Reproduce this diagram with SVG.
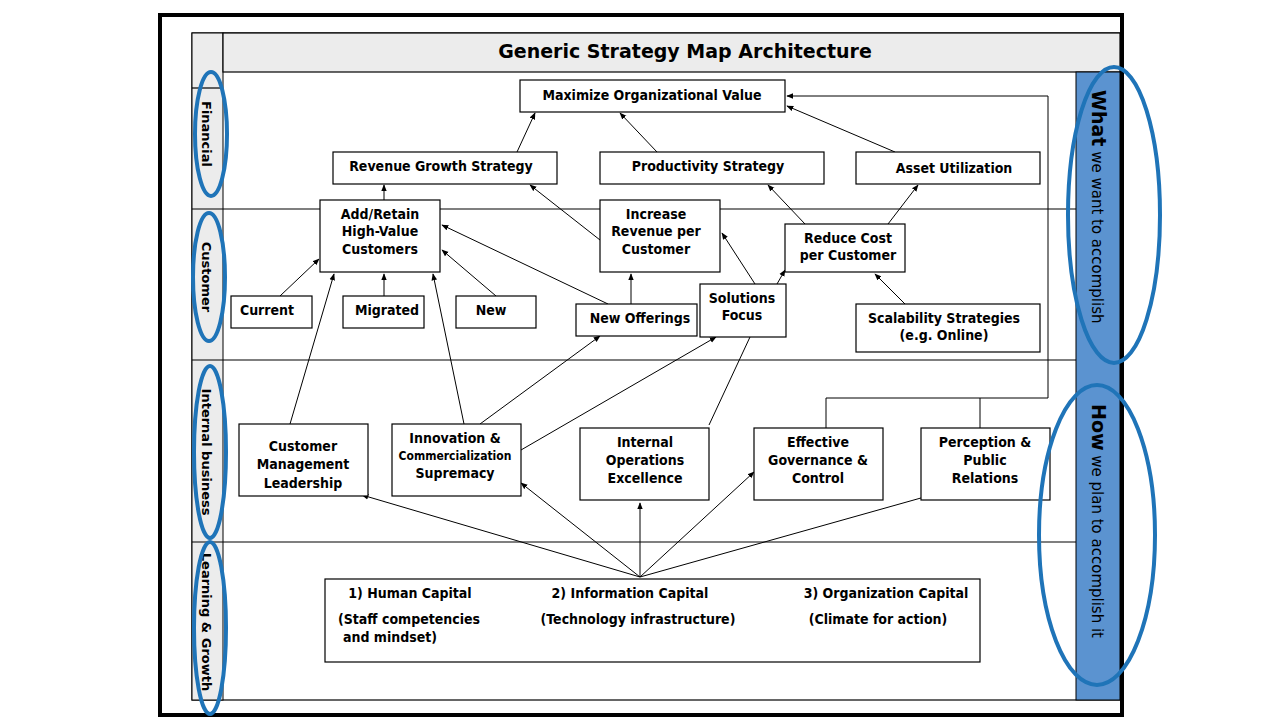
<svg xmlns="http://www.w3.org/2000/svg" width="1280" height="720" viewBox="0 0 1280 720">
<defs>
<marker id="ah" viewBox="0 0 10 10" refX="9" refY="5" markerWidth="7" markerHeight="7" orient="auto-start-reverse"><path d="M0,1 L10,5 L0,9 z" fill="#000"/></marker>
<style>
.box{fill:#fff;stroke:#000;stroke-width:1.2}
.t{font-family:"DejaVu Sans Condensed","DejaVu Sans",sans-serif;font-weight:bold;font-size:14px;fill:#000;text-anchor:middle}
.c line,.c polyline{stroke:#000;stroke-width:1;fill:none}
.ln{stroke:#000;stroke-width:1.2}
.side{font-family:"DejaVu Sans",sans-serif;font-weight:bold;font-size:13px;fill:#000;text-anchor:middle}
.ell{fill:none;stroke:#1f74b8;stroke-width:4}
</style>
</defs>
<rect width="1280" height="720" fill="#fff"/>
<rect x="160" y="15" width="962" height="700" fill="#fff" stroke="#000" stroke-width="4"/>
<rect x="192" y="33" width="928" height="667" fill="#fff" stroke="#000" stroke-width="1.2"/>
<rect x="192" y="33" width="31" height="667" fill="#ececec" stroke="#000" stroke-width="1"/>
<rect x="223" y="33" width="897" height="39" fill="#ececec" stroke="#000" stroke-width="1.2"/>
<text x="685" y="58" font-family="DejaVu Sans,sans-serif" font-weight="bold" font-size="19" text-anchor="middle">Generic Strategy Map Architecture</text>
<line class="ln" x1="192" y1="209" x2="1076" y2="209"/>
<line class="ln" x1="192" y1="360" x2="1076" y2="360"/>
<line class="ln" x1="192" y1="542" x2="1076" y2="542"/>
<line class="ln" x1="192" y1="88" x2="223" y2="88"/>
<rect x="1076" y="72" width="44" height="628" fill="#5b93d0" stroke="#000" stroke-width="1"/>
<text class="side" transform="translate(202,134) rotate(90)">Financial</text>
<text class="side" transform="translate(202,277) rotate(90)">Customer</text>
<text class="side" transform="translate(202,452) rotate(90)">Internal business</text>
<text class="side" transform="translate(202,622) rotate(90)">Learning &amp; Growth</text>
<text transform="translate(1092,90) rotate(90)" font-family="DejaVu Sans,sans-serif" font-size="15"><tspan font-weight="bold" font-size="19">What</tspan> we want to accomplish</text>
<text transform="translate(1092,404) rotate(90)" font-family="DejaVu Sans,sans-serif" font-size="15"><tspan font-weight="bold" font-size="19">How</tspan> we plan to accomplish it</text>
<g id="connectors" class="c">
<line x1="517" y1="152" x2="535" y2="113" marker-end="url(#ah)"/>
<line x1="657" y1="152" x2="620" y2="113" marker-end="url(#ah)"/>
<line x1="895" y1="152" x2="787" y2="106" marker-end="url(#ah)"/>
<line x1="384" y1="200" x2="384" y2="185" marker-end="url(#ah)"/>
<line x1="600" y1="240" x2="530" y2="185" marker-end="url(#ah)"/>
<line x1="805" y1="224" x2="768" y2="185" marker-end="url(#ah)"/>
<line x1="888" y1="224" x2="918" y2="185" marker-end="url(#ah)"/>
<line x1="280" y1="296" x2="319" y2="259" marker-end="url(#ah)"/>
<line x1="384" y1="296" x2="384" y2="274" marker-end="url(#ah)"/>
<line x1="496" y1="296" x2="442" y2="250" marker-end="url(#ah)"/>
<line x1="608" y1="304" x2="442" y2="225" marker-end="url(#ah)"/>
<line x1="631" y1="304" x2="631" y2="274" marker-end="url(#ah)"/>
<line x1="755" y1="284" x2="722" y2="233" marker-end="url(#ah)"/>
<line x1="777" y1="284" x2="785" y2="270" marker-end="url(#ah)"/>
<line x1="905" y1="304" x2="875" y2="274" marker-end="url(#ah)"/>
<line x1="290" y1="424" x2="334" y2="274" marker-end="url(#ah)"/>
<line x1="464" y1="424" x2="433" y2="274" marker-end="url(#ah)"/>
<line x1="480" y1="424" x2="600" y2="336" marker-end="url(#ah)"/>
<line x1="521" y1="450" x2="716" y2="337" marker-end="url(#ah)"/>
<line x1="709" y1="425" x2="750" y2="337"/>
<line x1="640" y1="577" x2="362" y2="495" marker-end="url(#ah)"/>
<line x1="640" y1="577" x2="521" y2="483" marker-end="url(#ah)"/>
<line x1="640" y1="577" x2="640" y2="503" marker-end="url(#ah)"/>
<line x1="640" y1="577" x2="754" y2="472" marker-end="url(#ah)"/>
<line x1="640" y1="577" x2="928" y2="496" marker-end="url(#ah)"/>
<polyline points="826,428 826,398 1048,398 1048,96 787,96" marker-end="url(#ah)"/>
<line x1="980" y1="428" x2="980" y2="398"/>
</g>
<g id="maximize"><rect class="box" x="520" y="80" width="265" height="32"/><text class="t" x="652" y="100">Maximize Organizational Value</text></g>
<g id="revenue"><rect class="box" x="333" y="152" width="224" height="32"/><text class="t" x="441" y="171">Revenue Growth Strategy</text></g>
<g id="productivity"><rect class="box" x="600" y="152" width="224" height="32"/><text class="t" x="708" y="171">Productivity Strategy</text></g>
<g id="asset"><rect class="box" x="856" y="152" width="184" height="32"/><text class="t" x="954" y="173">Asset Utilization</text></g>
<g id="addretain"><rect class="box" x="320" y="200" width="120" height="72"/><text class="t" x="380" y="219">Add/Retain<tspan x="380" dy="17">High-Value</tspan><tspan x="380" dy="18">Customers</tspan></text></g>
<g id="increase"><rect class="box" x="600" y="200" width="120" height="72"/><text class="t" x="656" y="219">Increase<tspan x="656" dy="17">Revenue per</tspan><tspan x="656" dy="18">Customer</tspan></text></g>
<g id="reduce"><rect class="box" x="785" y="224" width="120" height="48"/><text class="t" x="848" y="243">Reduce Cost<tspan x="848" dy="17">per Customer</tspan></text></g>
<g id="current"><rect class="box" x="231" y="296" width="81" height="32"/><text class="t" x="267" y="315">Current</text></g>
<g id="migrated"><rect class="box" x="343" y="296" width="81" height="32"/><text class="t" x="387" y="315">Migrated</text></g>
<g id="new"><rect class="box" x="456" y="296" width="80" height="32"/><text class="t" x="491" y="315">New</text></g>
<g id="newofferings"><rect class="box" x="576" y="304" width="121" height="32"/><text class="t" x="640" y="323">New Offerings</text></g>
<g id="solutions"><rect class="box" x="700" y="284" width="86" height="53"/><text class="t" x="742" y="303">Solutions<tspan x="742" dy="17">Focus</tspan></text></g>
<g id="scalability"><rect class="box" x="856" y="304" width="184" height="48"/><text class="t" x="944" y="323">Scalability Strategies<tspan x="944" dy="17">(e.g. Online)</tspan></text></g>
<g id="custmgmt"><rect class="box" x="239" y="424" width="129" height="72"/><text class="t" x="303" y="451">Customer<tspan x="303" dy="18">Management</tspan><tspan x="303" dy="19">Leadership</tspan></text></g>
<g id="innovation"><rect class="box" x="392" y="424" width="129" height="72"/><text class="t" x="455" y="443">Innovation &amp;<tspan x="455" dy="17" font-size="12">Commercialization</tspan><tspan x="455" dy="18">Supremacy</tspan></text></g>
<g id="internalops"><rect class="box" x="580" y="428" width="129" height="72"/><text class="t" x="645" y="447">Internal<tspan x="645" dy="18">Operations</tspan><tspan x="645" dy="18">Excellence</tspan></text></g>
<g id="governance"><rect class="box" x="754" y="428" width="129" height="72"/><text class="t" x="818" y="447">Effective<tspan x="818" dy="18">Governance  &amp;</tspan><tspan x="818" dy="18">Control</tspan></text></g>
<g id="perception"><rect class="box" x="921" y="428" width="129" height="72"/><text class="t" x="985" y="447">Perception &amp;<tspan x="985" dy="18">Public</tspan><tspan x="985" dy="18">Relations</tspan></text></g>
<g id="learning"><rect class="box" x="325" y="579" width="655" height="83"/>
<text class="t" x="410" y="598">1) Human Capital</text>
<text class="t" x="630" y="598">2) Information Capital</text>
<text class="t" x="886" y="598">3) Organization Capital</text>
<text class="t" x="338" y="624" style="text-anchor:start">(Staff competencies</text>
<text class="t" x="343" y="642" style="text-anchor:start">and mindset)</text>
<text class="t" x="638" y="624">(Technology infrastructure)</text>
<text class="t" x="878" y="624">(Climate for action)</text>
</g>
<ellipse class="ell" cx="211" cy="134" rx="16" ry="62"/>
<ellipse class="ell" cx="209" cy="277" rx="16" ry="64"/>
<ellipse class="ell" cx="210" cy="452" rx="16" ry="86"/>
<ellipse class="ell" cx="210" cy="628" rx="16" ry="86"/>
<ellipse class="ell" cx="1114" cy="215" rx="46" ry="148"/>
<ellipse class="ell" cx="1097" cy="535" rx="58" ry="150"/>
</svg>
